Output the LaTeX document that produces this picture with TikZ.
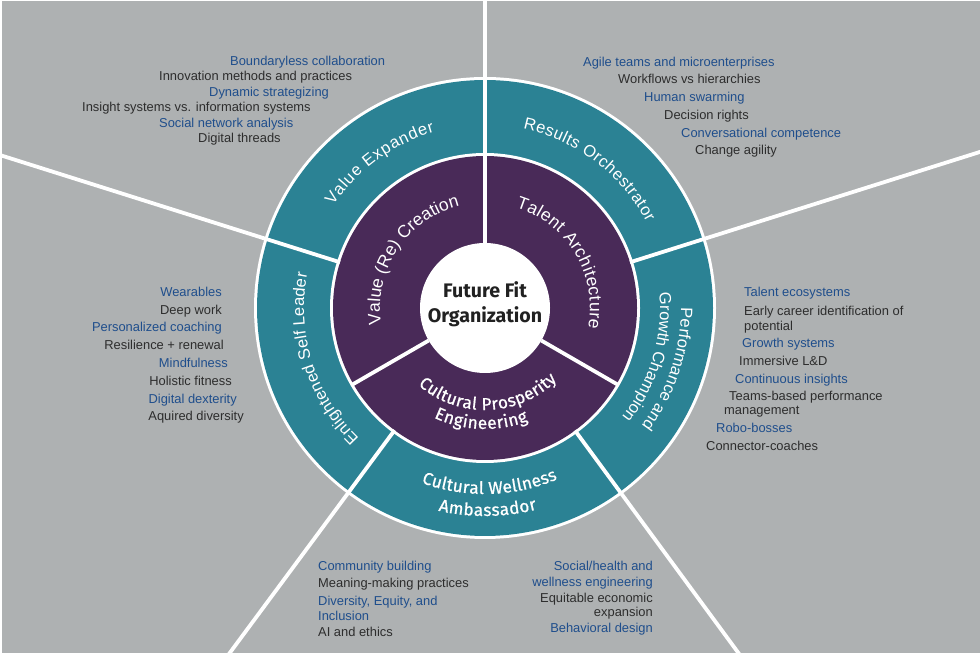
\documentclass[tikz,border=0pt]{standalone}
\usepackage{fontspec}
\setmainfont{Liberation Sans}
\newfontfamily\fira{Fira Sans}
\newfontfamily\firamed{Fira Sans}[FakeBold=0.8]
\usetikzlibrary{decorations.text,calc}
\definecolor{bggrey}{RGB}{174,177,178}
\definecolor{ringteal}{RGB}{43,130,148}
\definecolor{ringpurple}{RGB}{73,42,88}
\definecolor{itemblue}{RGB}{31,78,140}
\definecolor{itemdark}{RGB}{45,45,45}
\newcommand{\ringfont}{\fontsize{16.5}{18}\selectfont}
\newcommand{\innerfont}{\fontsize{17.5}{19}\selectfont}
\newcommand{\culfont}{\firamed\fontsize{17.2}{19}\selectfont}
\tikzset{
  divider/.style={white, line width=3.8pt},
  ringlabel/.style={decorate, decoration={text along path, text align={fit to path}, text color=white, text={#1}}},
  item/.style={inner sep=0pt, font=\fontsize{12.9}{14}\selectfont},
  bitem/.style={item, text=itemblue},
  ditem/.style={item, text=itemdark},
  centretext/.style={anchor=base, inner sep=0pt, font=\fira\bfseries\fontsize{19.6}{24}\selectfont, text=black!87},
}
\begin{document}
\begin{tikzpicture}[x=1pt,y=1pt]
\useasboundingbox (0,0) rectangle (980,653);
\fill[bggrey] (0,0) rectangle (980,653);
\fill[white] (0,651.5) rectangle (980,653);
\fill[white] (0,0) rectangle (1.5,653);
\coordinate (C) at (485,345);
% rings
\fill[white] (C) circle (231);
\fill[ringteal] (C) circle (228);
\fill[white] (C) circle (155);
\fill[ringpurple] (C) circle (152);
\fill[white] (C) circle (65);
% dividers
\begin{scope}
\clip (0,0) rectangle (980,653);
\draw[divider] ($(C)+(90:65)$) -- ($(C)+(90:900)$);
\draw[divider] ($(C)+(162.5:152)$) -- ($(C)+(162.5:900)$);
\draw[divider] ($(C)+(17.5:152)$) -- ($(C)+(17.5:900)$);
\draw[divider] ($(C)+(233.5:152)$) -- ($(C)+(233.5:900)$);
\draw[divider] ($(C)+(306.3:152)$) -- ($(C)+(306.3:900)$);
\draw[divider] ($(C)+(210:65)$) -- ($(C)+(210:153)$);
\draw[divider] ($(C)+(330:65)$) -- ($(C)+(330:153)$);
\end{scope}
% ring labels (outer)
\path[ringlabel={|\ringfont|Value Expander}] ($(C)+(146:183)$) arc[start angle=146, end angle=106, radius=183];
\path[ringlabel={|\ringfont|Results Orchestrator}] ($(C)+(78:183)$) arc[start angle=78, end angle=28, radius=183];
\path[ringlabel={|\ringfont|Enlightened Self Leader}] ($(C)+(226:181)$) arc[start angle=226, end angle=169, radius=181];
\path[ringlabel={|\ringfont|Performance and}] ($(C)+(0:196)$) arc[start angle=0, end angle=-36, radius=196];
\path[ringlabel={|\ringfont|Growth Champion}] ($(C)+(5:175)$) arc[start angle=5, end angle=-38, radius=175];
\path[ringlabel={|\culfont|Cultural Wellness}] ($(C)+(250:186)$) arc[start angle=250, end angle=293, radius=186];
\path[ringlabel={|\culfont|Ambassador}] ($(C)+(257:208)$) arc[start angle=257, end angle=284.5, radius=208];
% ring labels (inner)
\path[ringlabel={|\innerfont|Value (Re) Creation}] ($(C)+(189:105)$) arc[start angle=189, end angle=104, radius=105];
\path[ringlabel={|\innerfont|Talent Architecture}] ($(C)+(73:105)$) arc[start angle=73, end angle=-11, radius=105];
\path[ringlabel={|\culfont|Cultural Prosperity}] ($(C)+(229:102)$) arc[start angle=229, end angle=315, radius=102];
\path[ringlabel={|\culfont|Engineering}] ($(C)+(245:121)$) arc[start angle=245, end angle=291, radius=121];
% centre
\node[centretext] (ff1) at (485,355) {Future Fit};
\node[centretext] (ff2) at (485,330) {Organization};
% top-left list
\node[bitem, anchor=base west] (tl1) at (230,587.5) {Boundaryless collaboration};
\node[ditem, anchor=base west] (tl2) at (159,572.5) {Innovation methods and practices};
\node[bitem, anchor=base west] (tl3) at (209,556.5) {Dynamic strategizing};
\node[ditem, anchor=base west] (tl4) at (82,541.5) {Insight systems vs. information systems};
\node[bitem, anchor=base west] (tl5) at (159,525.5) {Social network analysis};
\node[ditem, anchor=base west] (tl6) at (198,510.5) {Digital threads};
% top-right list
\node[bitem, anchor=base west] (tr1) at (583,586.5) {Agile teams and microenterprises};
\node[ditem, anchor=base west] (tr2) at (618,569.5) {Workflows vs hierarchies};
\node[bitem, anchor=base west] (tr3) at (644,551.5) {Human swarming};
\node[ditem, anchor=base west] (tr4) at (664,533.5) {Decision rights};
\node[bitem, anchor=base west] (tr5) at (681,515.5) {Conversational competence};
\node[ditem, anchor=base west] (tr6) at (695,498.5) {Change agility};
% right list
\node[bitem, anchor=base west] (r1) at (744,356.5) {Talent ecosystems};
\node[ditem, anchor=base west] (r2) at (744,337.5) {Early career identification of};
\node[ditem, anchor=base west] (r2b) at (744,322.5) {potential};
\node[bitem, anchor=base west] (r3) at (742,305.5) {Growth systems};
\node[ditem, anchor=base west] (r4) at (739,287.5) {Immersive L\&D};
\node[bitem, anchor=base west] (r5) at (735,269.5) {Continuous insights};
\node[ditem, anchor=base west] (r6) at (729,252.5) {Teams-based performance};
\node[ditem, anchor=base west] (r6b) at (724,238.5) {management};
\node[bitem, anchor=base west] (r7) at (716,220.5) {Robo-bosses};
\node[ditem, anchor=base west] (r8) at (706,202.5) {Connector-coaches};
% left list
\node[bitem, anchor=base east] (l1) at (222,356.5) {Wearables};
\node[ditem, anchor=base east] (l2) at (222,338.5) {Deep work};
\node[bitem, anchor=base east] (l3) at (222,321.5) {Personalized coaching};
\node[ditem, anchor=base east] (l4) at (224,303.5) {Resilience + renewal};
\node[bitem, anchor=base east] (l5) at (228,285.5) {Mindfulness};
\node[ditem, anchor=base east] (l6) at (232,267.5) {Holistic fitness};
\node[bitem, anchor=base east] (l7) at (237,249.5) {Digital dexterity};
\node[ditem, anchor=base east] (l8) at (244,232.5) {Aquired diversity};
% bottom-left list
\node[bitem, anchor=base west] (bl1) at (318,82.5) {Community building};
\node[ditem, anchor=base west] (bl2) at (318,65.5) {Meaning-making practices};
\node[bitem, anchor=base west] (bl3) at (318,47.5) {Diversity, Equity, and};
\node[bitem, anchor=base west] (bl3b) at (318,32.5) {Inclusion};
\node[ditem, anchor=base west] (bl4) at (318,16.5) {AI and ethics};
% bottom-right list
\node[bitem, anchor=base east] (br1) at (653,82.5) {Social/health and};
\node[bitem, anchor=base east] (br1b) at (653,66.5) {wellness engineering};
\node[ditem, anchor=base east] (br2) at (653,50.5) {Equitable economic};
\node[ditem, anchor=base east] (br2b) at (653,36.5) {expansion};
\node[bitem, anchor=base east] (br3) at (653,20.5) {Behavioral design};
\end{tikzpicture}
\end{document}
